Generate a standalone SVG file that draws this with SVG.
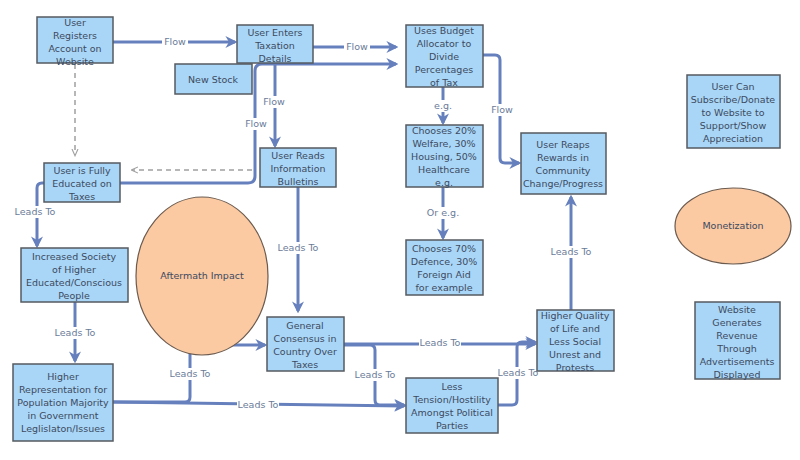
<svg xmlns="http://www.w3.org/2000/svg" width="800" height="460" viewBox="0 0 800 460">
<style>
.b{fill:#a9d6f7;stroke:#555a60;stroke-width:1.5}
.e{fill:#fbc9a2;stroke:#6b5a4e;stroke-width:1.2}
.t{font-family:"DejaVu Sans",sans-serif;font-size:9.5px;fill:#3d4a60;text-anchor:middle}
.c{fill:none;stroke:#6680bd;stroke-width:3;stroke-linejoin:round}
.d{fill:none;stroke:#a0a0a0;stroke-width:1.5;stroke-dasharray:5 4}
.l{font-family:"DejaVu Sans",sans-serif;font-size:9.5px;fill:#6a7c99;text-anchor:middle}
.lb{fill:#fff}
</style>
<defs>
<marker id="a" viewBox="0 0 10 10" refX="8" refY="5" markerWidth="4" markerHeight="4" orient="auto"><path d="M0,0L10,5L0,10L3,5z" fill="#6680bd"/></marker>
<marker id="g" viewBox="0 0 10 10" refX="8" refY="5" markerWidth="5" markerHeight="5" orient="auto"><path d="M0,1L9,5L0,9" fill="none" stroke="#a0a0a0" stroke-width="1.5"/></marker>
</defs>
<rect width="800" height="460" fill="#fff"/>
<g id="connectors">
<path class="c" d="M113,42H235" marker-end="url(#a)"/>
<path class="c" d="M313,47H396" marker-end="url(#a)"/>
<path class="c" d="M120,183H248Q255,183 255,176V71Q255,64 262,64H396" marker-end="url(#a)"/>
<path class="c" d="M275,63V146" marker-end="url(#a)"/>
<path class="d" d="M75,64V155" marker-end="url(#g)"/>
<path class="d" d="M252,170H132" marker-end="url(#g)"/>
<path class="c" d="M44,183H42Q37,183 37,188V246" marker-end="url(#a)"/>
<path class="c" d="M75,302V361" marker-end="url(#a)"/>
<path class="c" d="M298,187V311" marker-end="url(#a)"/>
<path class="c" d="M113,402H185Q190,402 190,397V350Q190,345 195,345H265" marker-end="url(#a)"/>
<path class="c" d="M113,402L404,406" marker-end="url(#a)"/>
<path class="c" d="M344,344H535" marker-end="url(#a)"/>
<path class="c" d="M344,345H370Q375,345 375,350V400Q375,405 380,405H404" marker-end="url(#a)"/>
<path class="c" d="M498,405H512Q517,405 517,400V347Q517,342 522,342H535" marker-end="url(#a)"/>
<path class="c" d="M571,310V197" marker-end="url(#a)"/>
<path class="c" d="M483,55H495Q500,55 500,60V158Q500,163 505,163H519" marker-end="url(#a)"/>
<path class="c" d="M443,87V123" marker-end="url(#a)"/>
<path class="c" d="M443,187V238" marker-end="url(#a)"/>
<g>
<rect class="lb" x="162" y="36" width="26" height="12"/><text class="l" x="175" y="45">Flow</text>
<rect class="lb" x="344" y="41" width="26" height="12"/><text class="l" x="357" y="50">Flow</text>
<rect class="lb" x="243" y="118" width="26" height="12"/><text class="l" x="256" y="127">Flow</text>
<rect class="lb" x="261" y="96" width="26" height="12"/><text class="l" x="274" y="105">Flow</text>
<rect class="lb" x="489" y="104" width="26" height="12"/><text class="l" x="502" y="113">Flow</text>
<rect class="lb" x="14" y="206" width="42" height="12"/><text class="l" x="35" y="215">Leads To</text>
<rect class="lb" x="54" y="327" width="42" height="12"/><text class="l" x="75" y="336">Leads To</text>
<rect class="lb" x="277" y="242" width="42" height="12"/><text class="l" x="298" y="251">Leads To</text>
<rect class="lb" x="169" y="368" width="42" height="12"/><text class="l" x="190" y="377">Leads To</text>
<rect class="lb" x="237" y="398" width="42" height="12"/><text class="l" x="258" y="408">Leads To</text>
<rect class="lb" x="419" y="337" width="42" height="12"/><text class="l" x="440" y="346">Leads To</text>
<rect class="lb" x="354" y="369" width="42" height="12"/><text class="l" x="375" y="378">Leads To</text>
<rect class="lb" x="497" y="367" width="42" height="12"/><text class="l" x="518" y="376">Leads To</text>
<rect class="lb" x="550" y="246" width="42" height="12"/><text class="l" x="571" y="255">Leads To</text>
<rect class="lb" x="433" y="100" width="20" height="12"/><text class="l" x="443" y="109">e.g.</text>
<rect class="lb" x="426" y="207" width="34" height="12"/><text class="l" x="443" y="216">Or e.g.</text>
</g>
</g>
<g id="n1"><rect class="b" x="37" y="17" width="76" height="46"/><text class="t"><tspan x="75" y="26">User</tspan><tspan x="75" y="39">Registers</tspan><tspan x="75" y="52">Account on</tspan><tspan x="75" y="65">Website</tspan></text></g>
<g id="n2"><rect class="b" x="237" y="25" width="76" height="38"/><text class="t"><tspan x="275" y="36">User Enters</tspan><tspan x="275" y="49">Taxation</tspan><tspan x="275" y="62">Details</tspan></text></g>
<g id="n3"><rect class="b" x="175" y="64" width="77" height="30"/><text class="t" x="213" y="83">New Stock</text></g>
<g id="n4"><rect class="b" x="406" y="25" width="77" height="62"/><text class="t"><tspan x="444" y="34">Uses Budget</tspan><tspan x="444" y="47">Allocator to</tspan><tspan x="444" y="60">Divide</tspan><tspan x="444" y="73">Percentages</tspan><tspan x="444" y="86">of Tax</tspan></text></g>
<g id="n5"><rect class="b" x="260" y="148" width="76" height="39"/><text class="t"><tspan x="298" y="159">User Reads</tspan><tspan x="298" y="172">Information</tspan><tspan x="298" y="185">Bulletins</tspan></text></g>
<g id="n6"><rect class="b" x="44" y="163" width="76" height="39"/><text class="t"><tspan x="82" y="174">User is Fully</tspan><tspan x="82" y="187">Educated on</tspan><tspan x="82" y="200">Taxes</tspan></text></g>
<g id="n7"><rect class="b" x="21" y="248" width="107" height="54"/><text class="t"><tspan x="74" y="260">Increased Society</tspan><tspan x="74" y="273">of Higher</tspan><tspan x="74" y="286">Educated/Conscious</tspan><tspan x="74" y="299">People</tspan></text></g>
<g id="n8"><rect class="b" x="13" y="364" width="100" height="77"/><text class="t"><tspan x="63" y="380">Higher</tspan><tspan x="63" y="393">Representation for</tspan><tspan x="63" y="406">Population Majority</tspan><tspan x="63" y="419">in Government</tspan><tspan x="63" y="432">Leglislaton/Issues</tspan></text></g>
<g id="n9"><rect class="b" x="406" y="125" width="77" height="62"/><text class="t"><tspan x="444" y="134">Chooses 20%</tspan><tspan x="444" y="147">Welfare, 30%</tspan><tspan x="444" y="160">Housing, 50%</tspan><tspan x="444" y="173">Healthcare</tspan><tspan x="444" y="186">e.g.</tspan></text></g>
<g id="n10"><rect class="b" x="406" y="240" width="77" height="55"/><text class="t"><tspan x="444" y="252">Chooses 70%</tspan><tspan x="444" y="265">Defence, 30%</tspan><tspan x="444" y="278">Foreign Aid</tspan><tspan x="444" y="291">for example</tspan></text></g>
<g id="n11"><rect class="b" x="521" y="133" width="85" height="61"/><text class="t"><tspan x="563" y="148">User Reaps</tspan><tspan x="563" y="161">Rewards in</tspan><tspan x="563" y="174">Community</tspan><tspan x="563" y="187">Change/Progress</tspan></text></g>
<g id="n12"><rect class="b" x="267" y="317" width="77" height="54"/><text class="t"><tspan x="305" y="329">General</tspan><tspan x="305" y="342">Consensus in</tspan><tspan x="305" y="355">Country Over</tspan><tspan x="305" y="368">Taxes</tspan></text></g>
<g id="n13"><rect class="b" x="537" y="310" width="77" height="61"/><text class="t"><tspan x="575" y="319">Higher Quality</tspan><tspan x="575" y="332">of Life and</tspan><tspan x="575" y="345">Less Social</tspan><tspan x="575" y="358">Unrest and</tspan><tspan x="575" y="371">Protests</tspan></text></g>
<g id="n14"><rect class="b" x="406" y="378" width="92" height="55"/><text class="t"><tspan x="452" y="390">Less</tspan><tspan x="452" y="403">Tension/Hostility</tspan><tspan x="452" y="416">Amongst Political</tspan><tspan x="452" y="429">Parties</tspan></text></g>
<g id="n15"><rect class="b" x="687" y="75" width="93" height="73"/><text class="t"><tspan x="733" y="90">User Can</tspan><tspan x="733" y="103">Subscribe/Donate</tspan><tspan x="733" y="116">to Website to</tspan><tspan x="733" y="129">Support/Show</tspan><tspan x="733" y="142">Appreciation</tspan></text></g>
<g id="n16"><rect class="b" x="695" y="302" width="85" height="77"/><text class="t"><tspan x="737" y="313">Website</tspan><tspan x="737" y="326">Generates</tspan><tspan x="737" y="339">Revenue</tspan><tspan x="737" y="352">Through</tspan><tspan x="737" y="365">Advertisements</tspan><tspan x="737" y="378">Displayed</tspan></text></g>
<g id="n17"><ellipse class="e" cx="202" cy="276" rx="66" ry="79"/><text class="t" x="202" y="279">Aftermath Impact</text></g>
<g id="n18"><ellipse class="e" cx="733" cy="226" rx="58" ry="38"/><text class="t" x="733" y="229">Monetization</text></g>
</svg>
